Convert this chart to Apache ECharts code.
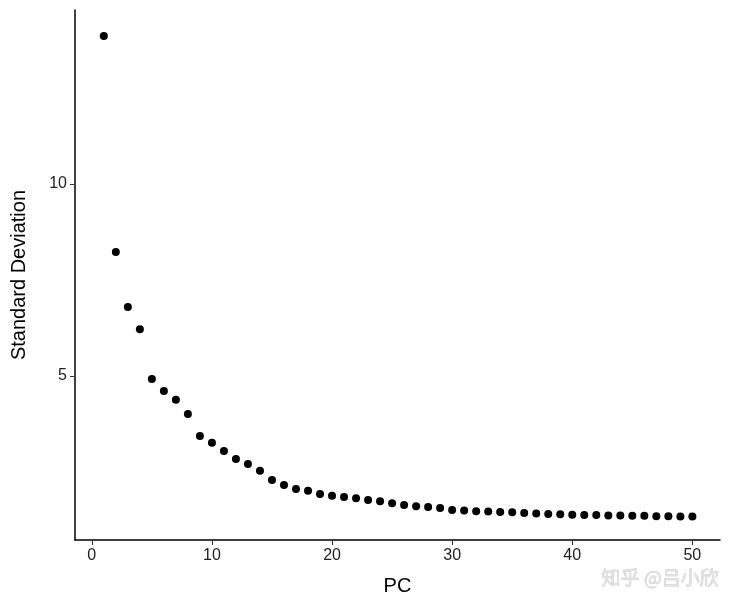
<!DOCTYPE html>
<html>
<head>
<meta charset="utf-8">
<script src="https://cdn.jsdelivr.net/npm/echarts@6/dist/echarts.min.js"></script>
<style>html,body{margin:0;padding:0;background:#fff}#chart{width:733px;height:611px}</style>
</head>
<body>
<div id="chart"></div>
<script>
// PC index and standard deviation
const pcs = Array.from({ length: 50 }, (_, i) => i + 1)
const stdev = [
    13.85, 8.23, 6.80, 6.22, 4.92, 4.61, 4.38, 4.01, 3.44, 3.26,
    3.05, 2.84, 2.71, 2.53, 2.29, 2.16, 2.06, 2.01, 1.93, 1.88,
    1.85, 1.82, 1.77, 1.74, 1.69, 1.64, 1.61, 1.59, 1.56, 1.51,
    1.50, 1.48, 1.47, 1.46, 1.45, 1.43, 1.42, 1.41, 1.40, 1.39,
    1.38, 1.38, 1.37, 1.37, 1.36, 1.36, 1.35, 1.35, 1.34, 1.34
]
const xTicks = [0, 10, 20, 30, 40, 50]
const yTicks = [5, 10]

const chart = echarts.init(document.getElementById('chart'))
const axisCommon = {
    axisLine: { show: true, onZero: false, lineStyle: { color: '#000', width: 1.5 } },
    axisTick: { show: true, length: 5, lineStyle: { color: '#333' } },
    axisLabel: { color: '#222', fontSize: 16, fontFamily: 'Liberation Sans' },
    splitLine: { show: false },
    nameTextStyle: { color: '#000', fontSize: 20, fontFamily: 'Liberation Sans' }
}
chart.setOption({
    animation: false,
    grid: { left: 75, right: 13, top: 10, bottom: 71 },
    xAxis: Object.assign({}, axisCommon, {
        type: 'value', min: -1.4, max: 52.3,
        name: 'PC', nameLocation: 'middle', nameGap: 36,
        axisTick: Object.assign({}, axisCommon.axisTick, { customValues: xTicks }),
        axisLabel: Object.assign({}, axisCommon.axisLabel, { customValues: xTicks, margin: 8 })
    }),
    yAxis: Object.assign({}, axisCommon, {
        type: 'value', min: 0.73, max: 14.53,
        name: 'Standard Deviation', nameLocation: 'middle', nameGap: 46,
        axisTick: Object.assign({}, axisCommon.axisTick, { customValues: yTicks }),
        axisLabel: Object.assign({}, axisCommon.axisLabel, { customValues: yTicks, margin: 8 })
    }),
    series: [{
        type: 'scatter',
        symbolSize: 8,
        itemStyle: { color: '#000', opacity: 1 },
        data: pcs.map((p, i) => [p, stdev[i]])
    }],
    graphic: [{
        type: 'text', right: 14, top: 568,
        style: { text: '知乎 @吕小欣', fill: 'rgba(225,225,225,0.95)', stroke: '#bbb', lineWidth: 0.5, fontSize: 19, fontFamily: 'Noto Sans CJK SC' }
    }]
})
</script>
</body>
</html>
